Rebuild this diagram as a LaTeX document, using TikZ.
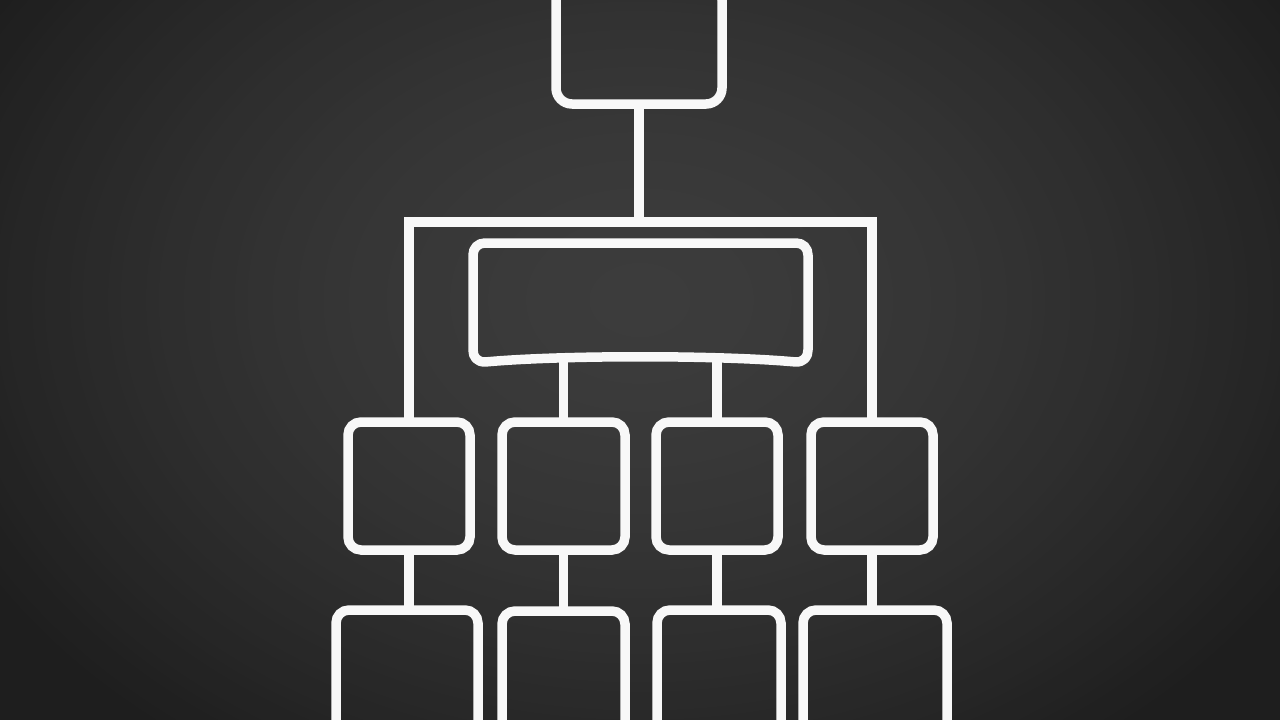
\documentclass[tikz,border=0pt]{standalone}
\definecolor{bgD}{HTML}{1E1E1E}
\definecolor{ink}{HTML}{F8F8F8}
\tikzset{
  orgbox/.style={draw=ink, line width=9.5pt, rectangle, rounded corners=13pt, inner sep=0pt, outer sep=0pt},
  link/.style={draw=ink, line width=9.5pt, line cap=butt, line join=miter},
}
\begin{document}
\begin{tikzpicture}[x=1pt,y=-1pt]
  \useasboundingbox (0,0) rectangle (1280,720);
  \begin{scope}
    \clip (0,0) rectangle (1280,720);
    \fill[bgD] (0,0) rectangle (1280,720);
    \foreach \i in {0,...,59}{
      \pgfmathsetmacro\tt{1-\i/60}
      \pgfmathtruncatemacro\vv{30+30*(1-(\tt)^1.6)+0.5}
      \definecolor{stepc}{RGB}{\vv,\vv,\vv}
      \fill[stepc] (640,300) ellipse [x radius=760*\tt, y radius=560*\tt];
    }
  \end{scope}

  % top box
  \node[orgbox, rounded corners=16pt, minimum width=166pt, minimum height=120pt] (top) at (639,44) {};

  % middle wide box (anchor node + drawn outline with slightly arched bottom)
  \node[inner sep=0pt, outer sep=0pt, minimum width=335pt, minimum height=119pt] (mid) at (640.5,302.5) {};
  \draw[draw=ink, line width=9.5pt, line join=round]
    (485,243) -- (796,243)
    .. controls (803,243) and (808,248) .. (808,255)
    -- (808,350)
    .. controls (808,357) and (804,362) .. (796,362)
    .. controls (720,355) and (560,355) .. (485,362)
    .. controls (477,362) and (473,357) .. (473,350)
    -- (473,255)
    .. controls (473,248) and (478,243) .. (485,243) -- cycle;

  % first row
  \node[orgbox, minimum width=122pt, minimum height=128pt] (b1) at (409,486) {};
  \node[orgbox, minimum width=123pt, minimum height=128pt] (b2) at (563.5,486) {};
  \node[orgbox, minimum width=122pt, minimum height=128pt] (b3) at (717,486) {};
  \node[orgbox, minimum width=122pt, minimum height=128pt] (b4) at (872,486) {};

  % second row (cut by the lower edge)
  \node[orgbox, minimum width=142pt, minimum height=160pt] (c1) at (407,690) {};
  \node[orgbox, minimum width=123pt, minimum height=160pt] (c2) at (563.5,691) {};
  \node[orgbox, minimum width=124pt, minimum height=160pt] (c3) at (719,690) {};
  \node[orgbox, minimum width=144pt, minimum height=160pt] (c4) at (875,690) {};

  % bar
  \coordinate (barY) at (0,222);
  \coordinate (barL) at (b1.north |- barY);
  \coordinate (barR) at (b4.north |- barY);
  \draw[link] (b1.north) -- (barL) -- (barR) -- (b4.north);
  \draw[link] (top.south) -- (top.south |- barY);

  % from middle box
  \draw[link] (b2.north) -- (b2.north |- 0,361);
  \draw[link] (b3.north) -- (b3.north |- 0,361);

  % row 1 to row 2
  \draw[link] (b1.south) -- (b1.south |- c1.north);
  \draw[link] (b2.south) -- (b2.south |- c2.north);
  \draw[link] (b3.south) -- (b3.south |- c3.north);
  \draw[link] (b4.south) -- (b4.south |- c4.north);
\end{tikzpicture}
\end{document}
